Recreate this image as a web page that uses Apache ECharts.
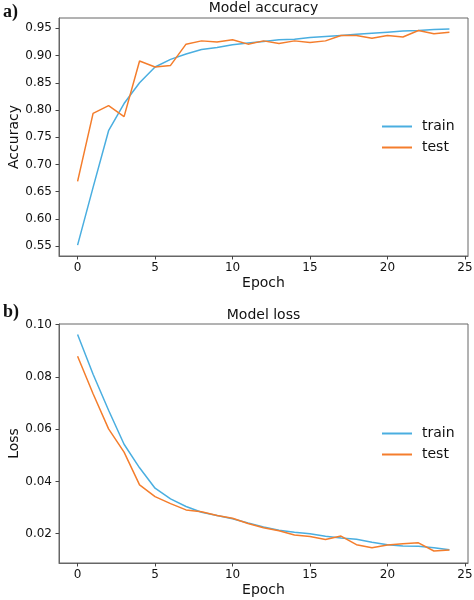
<!DOCTYPE html>
<html>
<head>
<meta charset="utf-8">
<script src="https://cdn.jsdelivr.net/npm/echarts@6/dist/echarts.min.js"></script>
<style>html,body{margin:0;padding:0;background:#fff}#c{width:474px;height:600px}</style>
</head>
<body>
<div id="c"></div>
<script>
const epochs = [0,1,2,3,4,5,6,7,8,9,10,11,12,13,14,15,16,17,18,19,20,21,22,23,24];
const accTrain = [0.552,0.658,0.762,0.812,0.850,0.879,0.893,0.903,0.911,0.915,0.920,0.923,0.926,0.929,0.930,0.933,0.935,0.937,0.939,0.941,0.943,0.945,0.946,0.948,0.949];
const accTest  = [0.669,0.794,0.808,0.788,0.890,0.879,0.882,0.921,0.927,0.925,0.929,0.921,0.927,0.922,0.927,0.924,0.927,0.937,0.937,0.932,0.937,0.934,0.946,0.940,0.943];
const lossTrain = [0.0962,0.0810,0.0672,0.0542,0.0452,0.0374,0.0333,0.0304,0.0282,0.0270,0.0257,0.0241,0.0226,0.0213,0.0206,0.0200,0.0190,0.0184,0.0179,0.0167,0.0158,0.0153,0.0152,0.0146,0.0139];
const lossTest  = [0.0879,0.0735,0.0601,0.0512,0.0387,0.0342,0.0315,0.0291,0.0284,0.0270,0.0259,0.0239,0.0223,0.0211,0.0195,0.0189,0.0178,0.0191,0.0158,0.0146,0.0157,0.0162,0.0165,0.0134,0.0138];
const xTicks = [0,5,10,15,20,25];
const accTicks = [0.55,0.60,0.65,0.70,0.75,0.80,0.85,0.90,0.95];
const lossTicks = [0.02,0.04,0.06,0.08,0.10];
const seriesNames = ['train','test'];

const BLUE = '#4aaee0', ORANGE = '#f47d2c';
const FONT = 'DejaVu Sans';
const pairs = arr => arr.map((v,i)=>[epochs[i], v]);

function xAxis(gi){
  return {
    type:'value', gridIndex:gi, min:-1.2, max:25.2,
    name:'Epoch', nameLocation:'middle', nameGap:20,
    nameTextStyle:{fontFamily:FONT,fontSize:14,color:'#111'},
    axisLine:{show:true,onZero:false,lineStyle:{color:'#666',width:1}}, splitLine:{show:false},
    axisTick:{show:true,length:3.5,lineStyle:{color:'#444'},customValues:xTicks},
    axisLabel:{fontFamily:FONT,fontSize:12,color:'#111',margin:6,customValues:xTicks,formatter:v=>String(v)}
  };
}
function yAxis(gi,min,max,ticks,name,gap){
  return {
    type:'value', gridIndex:gi, min:min, max:max,
    name:name, nameLocation:'middle', nameGap:gap, nameMoveOverlap:false,
    nameTextStyle:{fontFamily:FONT,fontSize:14,color:'#111'},
    axisLine:{show:true,onZero:false,lineStyle:{color:'#666',width:1}}, splitLine:{show:false},
    axisTick:{show:true,length:3.5,lineStyle:{color:'#444'},customValues:ticks},
    axisLabel:{fontFamily:FONT,fontSize:12,color:'#111',margin:7,customValues:ticks,formatter:v=>v.toFixed(2)}
  };
}
function legend(top){
  return {
    orient:'vertical', left:377, top:top, itemWidth:30, itemHeight:2, itemGap:6,
    icon:'rect', selectedMode:false,
    data:seriesNames,
    textStyle:{fontFamily:FONT,fontSize:14,color:'#111',lineHeight:15,padding:[0,0,0,5]}
  };
}
function line(name,gi,data,color){
  return {type:'line',name:name,xAxisIndex:gi,yAxisIndex:gi,data:pairs(data),
    showSymbol:false,symbol:'none',lineStyle:{color:color,width:1.5},itemStyle:{color:color},
    animation:false,silent:true};
}

const chart = echarts.init(document.getElementById('c'),null,{renderer:'canvas'});
chart.setOption({
  backgroundColor:'#fff',
  animation:false,
  grid:[
    {left:59,top:18,width:409,height:238,containLabel:false,outerBoundsMode:'none',show:true,borderColor:'#666',borderWidth:1,backgroundColor:'#fff'},
    {left:59,top:324,width:409,height:239,containLabel:false,outerBoundsMode:'none',show:true,borderColor:'#666',borderWidth:1,backgroundColor:'#fff'}
  ],
  xAxis:[xAxis(0),xAxis(1)],
  yAxis:[yAxis(0,0.532,0.969,accTicks,'Accuracy',38),yAxis(1,0.0088,0.1002,lossTicks,'Loss',38)],
  legend:[legend(114),legend(421)],
  series:[
    line('train',0,accTrain,BLUE),
    line('test',0,accTest,ORANGE),
    line('train',1,lossTrain,BLUE),
    line('test',1,lossTest,ORANGE)
  ],
  graphic:[
    {type:'text',left:3,top:3,style:{text:'a)',font:'bold 18px "Liberation Serif"',fill:'#111'}},
    {type:'text',left:3,top:303,style:{text:'b)',font:'bold 18px "Liberation Serif"',fill:'#111'}},
    {type:'text',x:263.5,y:8,style:{text:'Model accuracy',font:'14px "DejaVu Sans"',fill:'#111',align:'center',verticalAlign:'middle'}},
    {type:'text',x:263.5,y:315,style:{text:'Model loss',font:'14px "DejaVu Sans"',fill:'#111',align:'center',verticalAlign:'middle'}}
  ]
});
</script>
</body>
</html>
